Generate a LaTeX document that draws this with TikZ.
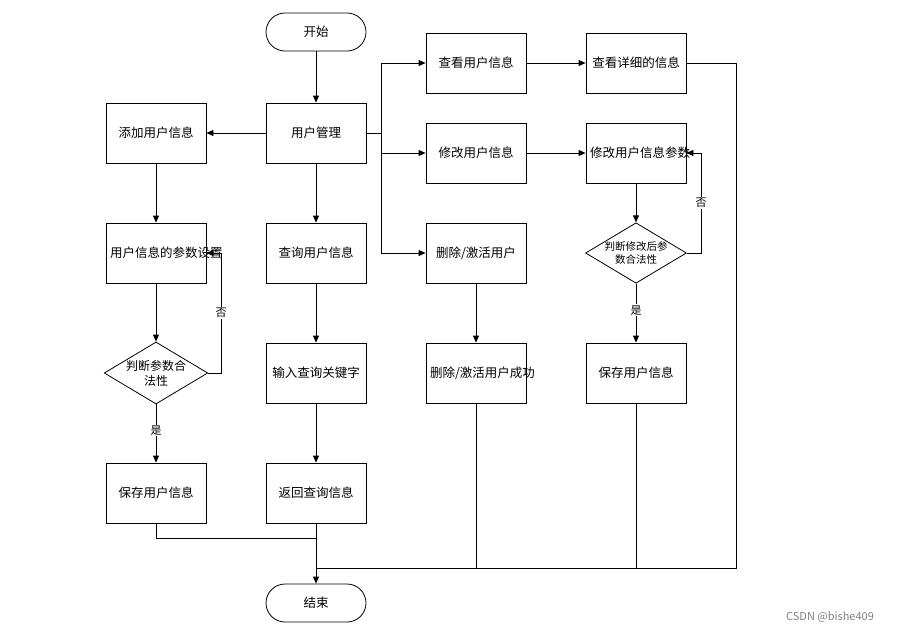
\documentclass[tikz,border=0pt]{standalone}
\usepackage{fontspec}
\setmainfont{Noto Sans CJK SC}
\usetikzlibrary{shapes.geometric,arrows.meta}
\begin{document}
\begin{tikzpicture}[x=1pt,y=-1pt,
  box/.style={draw,thick,minimum width=100pt,minimum height=60pt,text width=92pt,align=center,font=\fontsize{12.5}{17}\selectfont},
  term/.style={draw,thick,rounded corners=19pt,minimum width=100pt,minimum height=38pt,font=\fontsize{12.5}{15}\selectfont},
  dia/.style={draw,thick,diamond,aspect=1.67,minimum width=100pt,minimum height=60pt,inner sep=0pt,align=center,font=\fontsize{12}{15}\selectfont},
  arr/.style={thick,-{Triangle[length=7pt,width=6pt]}},
  ln/.style={thick},
  lab/.style={fill=white,inner sep=1pt,font=\fontsize{11}{13}\selectfont}]
\useasboundingbox (0,0) rectangle (899,633);
\node[term] (start) at (316,32) {开始};
\node[box] (um) at (316,133) {用户管理};
\node[box] (add) at (156,133) {添加用户信息};
\node[box] (set) at (156,253) {用户信息的参数设置};
\node[dia] (d1) at (156,373) {判断参数合\\法性};
\node[box] (sv1) at (156,493) {保存用户信息};
\node[box] (q) at (316,253) {查询用户信息};
\node[box] (in) at (316,373) {输入查询关键字};
\node[box] (ret) at (316,493) {返回查询信息};
\node[term] (end) at (316,603) {结束};
\node[box] (view) at (476,63) {查看用户信息};
\node[box] (det) at (636,63) {查看详细的信息};
\node[box] (mod) at (476,153) {修改用户信息};
\node[box] (par) at (636,153) {修改用户信息参数};
\node[dia,font=\fontsize{10.5}{13}\selectfont] (d2) at (636,253) {判断修改后参\\数合法性};
\node[box] (sv2) at (636,373) {保存用户信息};
\node[box] (del) at (476,253) {删除/激活用户};
\node[box] (ok) at (476,373) {删除/激活用户成功};
\node[font=\fontsize{11}{13}\selectfont,text=gray] (wm) at (830,617) {CSDN @bishe409};
\coordinate (sp) at (381,133);
\coordinate (bus) at (316,568);
\draw[arr] (start) -- (um);
\draw[arr] (um) -- (add);
\draw[arr] (um) -- (q);
\draw[ln] (um.east) -- (sp);
\draw[arr] (sp) |- (view.west);
\draw[arr] (sp) |- (mod.west);
\draw[arr] (sp) |- (del.west);
\draw[arr] (add) -- (set);
\draw[arr] (set) -- (d1);
\draw[arr] (d1) -- node[lab,pos=0.45]{是} (sv1);
\draw[arr] (d1.east) -- (221,373) -- node[lab]{否} (221,253) -- (set.east);
\draw[arr] (q) -- (in);
\draw[arr] (in) -- (ret);
\draw[arr] (ret) -- (end);
\draw[ln] (sv1.south) |- (316,538);
\draw[arr] (view) -- (det);
\draw[arr] (mod) -- (par);
\draw[arr] (par) -- (d2);
\draw[arr] (d2) -- node[lab,pos=0.45]{是} (sv2);
\draw[arr] (d2.east) -- (701,253) -- node[lab]{否} (701,153) -- (par.east);
\draw[arr] (del) -- (ok);
\draw[ln] (ok.south) -- (476,568);
\draw[ln] (sv2.south) -- (636,568);
\draw[ln] (det.east) -- (736,63) -- (736,568) -- (bus);
\end{tikzpicture}
\end{document}
